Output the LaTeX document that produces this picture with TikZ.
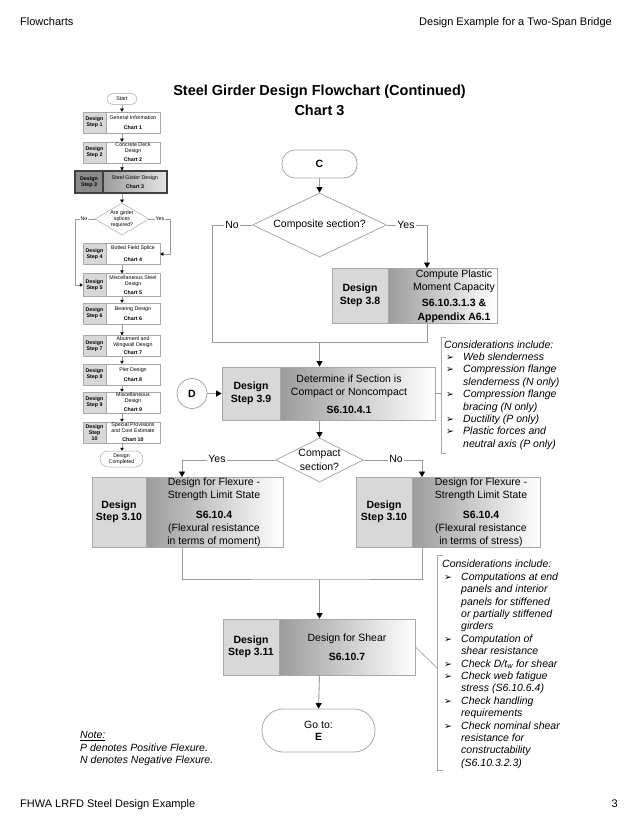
\documentclass[tikz,border=0pt]{standalone}
\usepackage{fontspec}
\setmainfont{Liberation Sans}
\newfontfamily\dejavu{DejaVu Sans}
\usetikzlibrary{arrows.meta,shapes.geometric}
\definecolor{ln}{HTML}{9A9A9A}
\definecolor{bd}{HTML}{A8A8A8}
\definecolor{lp}{HTML}{D8D8D8}
\definecolor{gl}{HTML}{9C9C9C}
\definecolor{dk}{HTML}{8A8A8A}
\newcommand\bul{\makebox[19pt][l]{\hspace*{2pt}{\dejavu\upshape\fontsize{9.5}{9.5}\selectfont ➢}}}
\newcommand\ind{\hspace*{19pt}}
\tikzset{
 conn/.style={draw=ln, line width=0.9pt},
 arr/.style={conn, -{Triangle[length=5.5pt,width=6pt,color=black]}},
 brk/.style={draw=bd, line width=0.6pt},
 leftpart/.style={draw=bd, fill=lp, line width=0.8pt, font=\fontsize{10.5}{12.5}\selectfont\bfseries, align=center, inner sep=0},
 rightpart/.style={draw=bd, left color=gl, right color=white, line width=0.8pt, inner sep=0},
 txt/.style={font=\fontsize{10.5}{13.3}\selectfont, align=center, inner sep=0},
 lbl/.style={font=\fontsize{10.5}{12}\selectfont, fill=white, inner sep=1.5pt},
 term/.style={draw=bd, line width=0.8pt, fill=white, font=\fontsize{10.5}{12}\selectfont, align=center, inner sep=0},
 dia/.style={diamond, draw=bd, line width=0.8pt, fill=white, inner sep=0},
 callout/.style={font=\fontsize{10.5}{12.4}\selectfont\itshape, align=left, inner sep=0, anchor=north west},
 mfont/.style={font=\fontsize{5.3}{6}\selectfont},
 mleft/.style={draw=bd, fill=lp, line width=0.5pt, minimum width=23, minimum height=21, inner sep=0, font=\fontsize{5.3}{6}\selectfont\bfseries, align=center},
 mright/.style={draw=bd, fill=white, line width=0.5pt, minimum width=54, minimum height=21, inner sep=0, font=\fontsize{5.3}{6}\selectfont, align=center},
 mconn/.style={draw=ln, line width=0.5pt},
 marr/.style={mconn, -{Triangle[length=3pt,width=3.5pt,color=black]}},
 mterm/.style={draw=bd, line width=0.5pt, fill=white, inner sep=0, font=\fontsize{5.3}{6}\selectfont, align=center},
 mlbl/.style={font=\fontsize{5.3}{6}\selectfont, fill=white, inner sep=0.8pt}
}
\begin{document}
\begin{tikzpicture}[x=1pt,y=-1pt]
\fill[white] (0,0) rectangle (638,826);
\useasboundingbox (0,0) rectangle (638,826);

% header / footer
\node[anchor=base west, font=\fontsize{11}{13}\selectfont, inner sep=0] (h1) at (20,26) {Flowcharts};
\node[anchor=base east, font=\fontsize{11}{13}\selectfont, inner sep=0] (h2) at (612,26) {Design Example for a Two-Span Bridge};
\node[anchor=base west, font=\fontsize{11}{13}\selectfont, inner sep=0] (f1) at (20,807) {FHWA LRFD Steel Design Example};
\node[anchor=base east, font=\fontsize{11}{13}\selectfont, inner sep=0] (f2) at (618,807) {3};

% title
\node[font=\fontsize{14.5}{20}\selectfont\bfseries, align=center, inner sep=0] (title) at (319.5,100) {Steel Girder Design Flowchart (Continued)\\Chart 3};

% ---------- mini chart ----------
\node[mterm, minimum width=30, minimum height=11, rounded corners=5.5pt] (mstart) at (122,99) {Start};
\node[mleft] (m1a) at (94.5,122.5) {Design\\Step 1};
\node[mright] (m1b) at (133,122.5) {General Information\\[4pt]\textbf{Chart 1}};
\node[mleft] (m2a) at (94.5,152.5) {Design\\Step 2};
\node[mright] (m2b) at (133,152.5) {Concrete Deck\\Design\\[3pt]\textbf{Chart 2}};
\node[mleft, fill=dk, draw=black!75, line width=1.3pt, minimum width=28, minimum height=22] (m3a) at (89,182) {Design\\Step 3};
\node[mright, left color=gl, right color=black!10, draw=black!75, line width=1.3pt, minimum width=64, minimum height=22] (m3b) at (135,182) {Steel Girder Design\\[3pt]\textbf{Chart 3}};
\node[dia, line width=0.5pt, minimum width=54, minimum height=32] (mdia) at (122,219) {};
\node[mfont, align=center, inner sep=0] (mdiat) at (122,219) {Are girder\\splices\\required?};
\node[mleft] (m4a) at (94.5,254) {Design\\Step 4};
\node[mright] (m4b) at (133,254) {Bolted Field Splice\\[6pt]\textbf{Chart 4}};
\node[mleft, minimum height=23] (m5a) at (94.5,285) {Design\\Step 5};
\node[mright, minimum height=23] (m5b) at (133,285) {Miscellaneous Steel\\Design\\[3pt]\textbf{Chart 5}};
\node[mleft] (m6a) at (94.5,313.5) {Design\\Step 6};
\node[mright] (m6b) at (133,313.5) {Bearing Design\\[4pt]\textbf{Chart 6}};
\node[mleft] (m7a) at (94.5,346) {Design\\Step 7};
\node[mright] (m7b) at (133,346) {Abutment and\\Wingwall Design\\[2pt]\textbf{Chart 7}};
\node[mleft] (m8a) at (94.5,374.5) {Design\\Step 8};
\node[mright] (m8b) at (133,374.5) {Pier Design\\[4pt]\textbf{Chart 8}};
\node[mleft] (m9a) at (94.5,402.5) {Design\\Step 9};
\node[mright] (m9b) at (133,402.5) {Miscellaneous\\Design\\[3pt]\textbf{Chart 9}};
\node[mleft] (m10a) at (94.5,432.5) {Design\\Step\\10};
\node[mright] (m10b) at (133,432.5) {Special Provisions\\and Cost Estimate\\[3pt]\textbf{Chart 10}};
\node[mterm, minimum width=43, minimum height=16, rounded corners=8pt] (mend) at (121.5,459) {Design\\Completed};

\draw[marr] (mstart.south) -- (mstart.south |- m1b.north);
\draw[marr] (m1b.south -| mstart) -- (m2b.north -| mstart);
\draw[marr] (m2b.south -| mstart) -- (m3b.north -| mstart);
\draw[marr] (m3b.south -| mstart) -- (mdia.north);
\draw[marr] (m4b.south -| mstart) -- (m5b.north -| mstart);
\draw[marr] (m5b.south -| mstart) -- (m6b.north -| mstart);
\draw[marr] (m6b.south -| mstart) -- (m7b.north -| mstart);
\draw[marr] (m7b.south -| mstart) -- (m8b.north -| mstart);
\draw[marr] (m8b.south -| mstart) -- (m9b.north -| mstart);
\draw[marr] (m9b.south -| mstart) -- (m10b.north -| mstart);
\draw[marr] (m10b.south -| mstart) -- (mend.north -| mstart);
\coordinate (myR) at (170,254);
\coordinate (myL) at (75,285);
\draw[marr] (mdia.east) -| (myR) -- (m4b.east);
\draw[marr] (mdia.west) -| (myL) -- (m5a.west);
\node[mlbl] (mno) at (84,219) {No};
\node[mlbl] (myes) at (160,219) {Yes};

% ---------- main chart ----------
\node[term, minimum width=75, minimum height=28, rounded corners=13pt] (C) at (319.5,164) {\textbf{C}};
\node[dia, minimum width=134, minimum height=64] (comp) at (319.5,225) {};
\node[txt] (compt) at (319.5,225) {Composite section?};

\node[leftpart, minimum width=56, minimum height=55] (s38a) at (360,295.5) {Design\\Step 3.8};
\node[rightpart, minimum width=109, minimum height=55] (s38b) at (442.5,295.5) {};
\node[txt] (s38t) at (454,296) {Compute Plastic\\Moment Capacity\\[3pt]\textbf{S6.10.3.1.3 \&}\\\textbf{Appendix A6.1}};

\node[leftpart, minimum width=58, minimum height=53] (s39a) at (251,393.5) {Design\\Step 3.9};
\node[rightpart, minimum width=155, minimum height=53] (s39b) at (357.5,393.5) {};
\node[txt] (s39t) at (349,394) {Determine if Section is\\Compact or Noncompact\\[4pt]\textbf{S6.10.4.1}};

\node[circle, draw=bd, line width=0.8pt, fill=white, minimum size=30, inner sep=0, font=\fontsize{10.5}{12}\selectfont\bfseries] (D) at (192,393.5) {D};

\node[dia, minimum width=88, minimum height=44] (cmp) at (319.5,460) {};
\node[txt] (cmpt) at (319.5,460) {Compact\\section?};

\node[leftpart, minimum width=54, minimum height=70] (s310La) at (119,512) {Design\\Step 3.10};
\node[rightpart, minimum width=137, minimum height=70] (s310Lb) at (214.5,512) {};
\node[txt] (s310Lt) at (214,512.5) {Design for Flexure -\\Strength Limit State\\[6pt]\textbf{S6.10.4}\\(Flexural resistance\\in terms of moment)};

\node[leftpart, minimum width=56, minimum height=70] (s310Ra) at (384,512) {Design\\Step 3.10};
\node[rightpart, minimum width=128, minimum height=70] (s310Rb) at (476,512) {};
\node[txt] (s310Rt) at (481,512.5) {Design for Flexure -\\Strength Limit State\\[6pt]\textbf{S6.10.4}\\(Flexural resistance\\in terms of stress)};

\node[leftpart, minimum width=56, minimum height=56] (s311a) at (251,647) {Design\\Step 3.11};
\node[rightpart, minimum width=136, minimum height=56] (s311b) at (347,647) {};
\node[txt] (s311t) at (347,647) {Design for Shear\\[6pt]\textbf{S6.10.7}};

\node[term, minimum width=113, minimum height=43, rounded corners=21pt, font=\fontsize{10.5}{12}\selectfont] (goto) at (318.5,730.5) {Go to:\\\textbf{E}};

% connectors
\coordinate (jL) at (212,342);
\coordinate (j1) at (319.5,342);
\coordinate (s38in) at (427,268);
\coordinate (s38out) at (427,323);
\draw[arr] (C.south) -- (comp.north);
\draw[conn] (comp.west) -| (jL) -- (j1);
\draw[arr] (comp.east) -| (s38in);
\draw[conn] (s38out) |- (j1);
\draw[arr] (j1) -- (s39b.north -| j1);
\node[lbl] (lno) at (232,225) {No};
\node[lbl] (lyes) at (406,225) {Yes};
\draw[arr] (D.east) -- (s39a.west);
\draw[arr] (s39b.south -| cmp.north) -- (cmp.north);

\coordinate (kL) at (182,477);
\coordinate (kR) at (422,477);
\draw[arr] (cmp.west) -| (kL);
\draw[arr] (cmp.east) -| (kR);
\node[lbl] (lyes2) at (217,459) {Yes};
\node[lbl] (lno2) at (396,459) {No};

\coordinate (mL) at (182,547);
\coordinate (mR) at (422,547);
\coordinate (j2) at (319.5,579);
\draw[conn] (mL) |- (j2) -| (mR);
\draw[arr] (j2) -- (s311b.north -| j2);
\draw[arr] (s311b.south -| j2) -- (goto.north);

% callout 1
\coordinate (c1a) at (446,337);
\coordinate (c1b) at (441,337);
\coordinate (c1c) at (441,453);
\coordinate (c1d) at (446,453);
\draw[brk] (c1a) -- (c1b) -- (c1c) -- (c1d);
\draw[conn, line width=0.6pt] (s39b.east) -- (s39b.east -| c1b);
\node[callout] (co1) at (444,340.3) {Considerations include:\\
\bul Web slenderness\\
\bul Compression flange\\
\ind slenderness (N only)\\
\bul Compression flange\\
\ind bracing (N only)\\
\bul Ductility (P only)\\
\bul Plastic forces and\\
\ind neutral axis (P only)};

% callout 2
\coordinate (c2a) at (443,555);
\coordinate (c2b) at (437,555);
\coordinate (c2c) at (437,770);
\coordinate (c2d) at (443,770);
\coordinate (c2m) at (437,668);
\draw[brk] (c2a) -- (c2b) -- (c2c) -- (c2d);
\draw[conn, line width=0.6pt] (s311b.east) -- (c2m);
\node[callout] (co2) at (442,560) {Considerations include:\\
\bul Computations at end\\
\ind panels and interior\\
\ind panels for stiffened\\
\ind or partially stiffened\\
\ind girders\\
\bul Computation of\\
\ind shear resistance\\
\bul Check D/t\textsubscript{w} for shear\\
\bul Check web fatigue\\
\ind stress (S6.10.6.4)\\
\bul Check handling\\
\ind requirements\\
\bul Check nominal shear\\
\ind resistance for\\
\ind constructability\\
\ind (S6.10.3.2.3)};

% note
\node[callout] (note) at (80,731.5) {\underline{Note:}\\P denotes Positive Flexure.\\N denotes Negative Flexure.};
\end{tikzpicture}
\end{document}
